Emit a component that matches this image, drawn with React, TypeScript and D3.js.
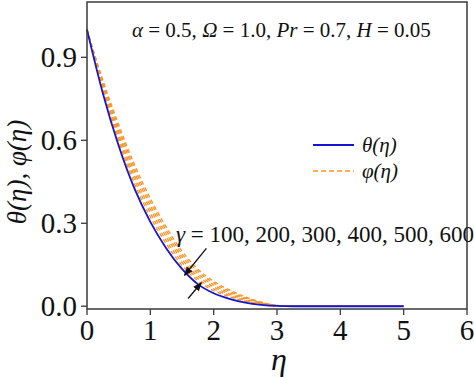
import * as d3 from "d3";

// eta grid and curves
const eta = [0, 0.25, 0.5, 0.75, 1, 1.25, 1.5, 1.75, 2, 2.25, 2.5, 2.75, 3, 3.25, 3.5, 4, 4.5, 5];
const theta = [1.0, 0.77, 0.58, 0.425, 0.305, 0.21, 0.135, 0.08, 0.047, 0.027, 0.013, 0.005, 0.001, 0, 0, 0, 0, 0];
const phi100 = [1.0, 0.78, 0.597, 0.443, 0.323, 0.226, 0.148, 0.092, 0.056, 0.034, 0.018, 0.007, 0.001, 0, 0, 0, 0, 0];
const phi200 = [1.0, 0.788, 0.609, 0.457, 0.337, 0.238, 0.159, 0.1, 0.063, 0.039, 0.021, 0.009, 0.002, 0, 0, 0, 0, 0];
const phi300 = [1.0, 0.796, 0.621, 0.471, 0.351, 0.251, 0.169, 0.109, 0.07, 0.044, 0.025, 0.011, 0.002, 0, 0, 0, 0, 0];
const phi400 = [1.0, 0.804, 0.633, 0.485, 0.364, 0.263, 0.179, 0.118, 0.077, 0.049, 0.028, 0.012, 0.003, 0, 0, 0, 0, 0];
const phi500 = [1.0, 0.811, 0.645, 0.499, 0.377, 0.275, 0.189, 0.126, 0.084, 0.054, 0.031, 0.014, 0.003, 0, 0, 0, 0, 0];
const phi600 = [1.0, 0.818, 0.657, 0.512, 0.39, 0.287, 0.199, 0.134, 0.09, 0.059, 0.034, 0.015, 0.003, 0, 0, 0, 0, 0];
const phiSeries = [phi100, phi200, phi300, phi400, phi500, phi600];

const xTicks = [0, 1, 2, 3, 4, 5, 6];
const yTicks = [0, 0.3, 0.6, 0.9];
const gammaLabel = " = 100, 200, 300, 400, 500, 600";

// arrows in data units: [fromEta, fromVal, toEta, toVal]
const arrows = [
  [1.885, 0.209, 1.54, 0.112],
  [1.596, 0.028, 1.805, 0.085],
];

const W = 474;
const H = 377;
const BLUE = "#1414d2";
const ORANGE = "#f5962a";
const INK = "#111";
const FRAME = "#3a3a3a";
const serif = { fontFamily: "Liberation Serif, Times New Roman, serif" };

const x = d3.scaleLinear().domain([0, 6]).range([87, 467]);
const y = d3.scaleLinear().domain([-0.01, 1.1]).range([309, 2]);

const line = d3
  .line<number>()
  .x((_, i) => x(eta[i]))
  .y((d) => y(d))
  .curve(d3.curveMonotoneX);

const params: [string, boolean][] = [
  ["α", true],
  [" = 0.5, ", false],
  ["Ω", true],
  [" = 1.0, ", false],
  ["Pr", true],
  [" = 0.7, ", false],
  ["H", true],
  [" = 0.05", false],
];

export default function App() {
  const [x0, x1] = x.range();
  const [yb, yt] = y.range();
  return (
    <svg width={W} height={H} style={{ position: "absolute", left: 0, top: 0 }}>
      <rect x={0} y={0} width={W} height={H} fill="#fff" />
      <defs>
        <marker
          id="ah"
          viewBox="0 0 10 10"
          refX={9}
          refY={5}
          markerWidth={7}
          markerHeight={7}
          orient="auto"
        >
          <path d="M0,1 L10,5 L0,9 Z" fill={INK} />
        </marker>
      </defs>

      {/* curves */}
      {phiSeries.map((s, i) => (
        <path
          key={i}
          d={line(s) ?? ""}
          fill="none"
          stroke={ORANGE}
          strokeWidth={1.3}
          strokeDasharray="4,3"
        />
      ))}
      <path d={line(theta) ?? ""} fill="none" stroke={BLUE} strokeWidth={1.8} />

      {/* frame */}
      <rect
        x={x0}
        y={yt}
        width={x1 - x0}
        height={yb - yt}
        fill="none"
        stroke={FRAME}
        strokeWidth={1.5}
      />

      {/* x ticks */}
      {xTicks.map((t) => (
        <g key={"x" + t}>
          <line x1={x(t)} x2={x(t)} y1={yb} y2={yb + 6} stroke={FRAME} strokeWidth={1.3} />
          <text x={x(t)} y={yb + 31} textAnchor="middle" fontSize={29} fill={INK} style={serif}>
            {t}
          </text>
        </g>
      ))}

      {/* y ticks */}
      {yTicks.map((t) => (
        <g key={"y" + t}>
          <line x1={x0 - 6} x2={x0} y1={y(t)} y2={y(t)} stroke={FRAME} strokeWidth={1.3} />
          <text x={x0 - 10} y={y(t) + 10} textAnchor="end" fontSize={29} fill={INK} style={serif}>
            {d3.format(".1f")(t)}
          </text>
        </g>
      ))}

      {/* axis labels */}
      <text
        x={279}
        y={370}
        textAnchor="middle"
        fontSize={32}
        fontStyle="italic"
        fill={INK}
        style={serif}
      >
        η
      </text>
      <text
        transform="translate(26,172) rotate(-90)"
        textAnchor="middle"
        fontSize={27}
        fontStyle="italic"
        fill={INK}
        style={serif}
      >
        θ(η), φ(η)
      </text>

      {/* parameters */}
      <text x={132} y={37} fontSize={21} fill={INK} style={serif}>
        {params.map(([t, it], i) => (
          <tspan key={i} fontStyle={it ? "italic" : "normal"}>
            {t}
          </tspan>
        ))}
      </text>

      {/* gamma annotation */}
      <text x={176} y={242} fontSize={23} fill={INK} style={serif}>
        <tspan fontStyle="italic">γ</tspan>
        <tspan>{gammaLabel}</tspan>
      </text>
      {arrows.map((a, i) => (
        <line
          key={i}
          x1={x(a[0])}
          y1={y(a[1])}
          x2={x(a[2])}
          y2={y(a[3])}
          stroke={INK}
          strokeWidth={1.3}
          markerEnd="url(#ah)"
        />
      ))}

      {/* legend */}
      <line x1={313} x2={354} y1={145} y2={145} stroke={BLUE} strokeWidth={1.8} />
      <line
        x1={313}
        x2={354}
        y1={171}
        y2={171}
        stroke={ORANGE}
        strokeWidth={1.3}
        strokeDasharray="5,3"
      />
      <text x={362} y={152} fontSize={21} fontStyle="italic" fill={INK} style={serif}>
        θ(η)
      </text>
      <text x={362} y={178} fontSize={21} fontStyle="italic" fill={INK} style={serif}>
        φ(η)
      </text>
    </svg>
  );
}
